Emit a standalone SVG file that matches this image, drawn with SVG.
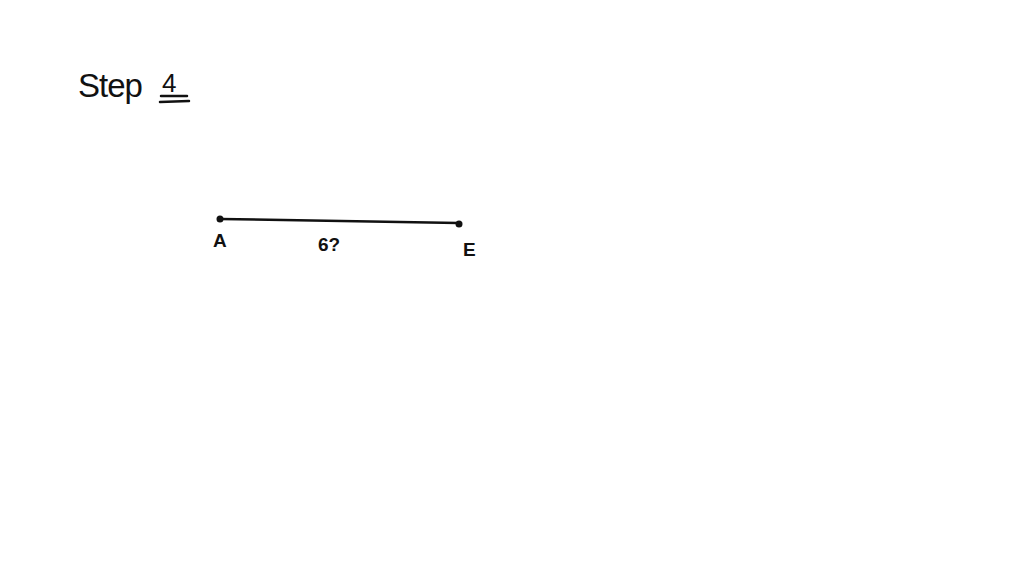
<svg xmlns="http://www.w3.org/2000/svg" width="1024" height="576" viewBox="0 0 1024 576">
<style>
text{font-family:"Liberation Sans","DejaVu Sans",sans-serif;fill:#111}
.lbl{font-size:19px;font-weight:bold}
.ink{stroke:#111;stroke-linecap:round;fill:none}
</style>
<rect width="1024" height="576" fill="#fff"/>
<g id="title">
<text x="78" y="97" style="font-size:33px;letter-spacing:-1px">Step</text>
<text x="162" y="92" style="font-size:26px">4</text>
<line class="ink" x1="161" y1="96" x2="187" y2="96" stroke-width="2.5"/>
<line class="ink" x1="160" y1="102" x2="189" y2="101" stroke-width="2.5"/>
</g>
<g id="connectors">
<line class="ink" x1="220" y1="219" x2="458" y2="223" stroke-width="2.5"/>
</g>
<g id="A">
<circle cx="220" cy="219" r="3.5" fill="#111"/>
<text class="lbl" x="213" y="247">A</text>
</g>
<g id="E">
<circle cx="459" cy="224" r="3.5" fill="#111"/>
<text class="lbl" x="463" y="256">E</text>
</g>
<g id="length">
<text class="lbl" x="318" y="251">6?</text>
</g>
</svg>
